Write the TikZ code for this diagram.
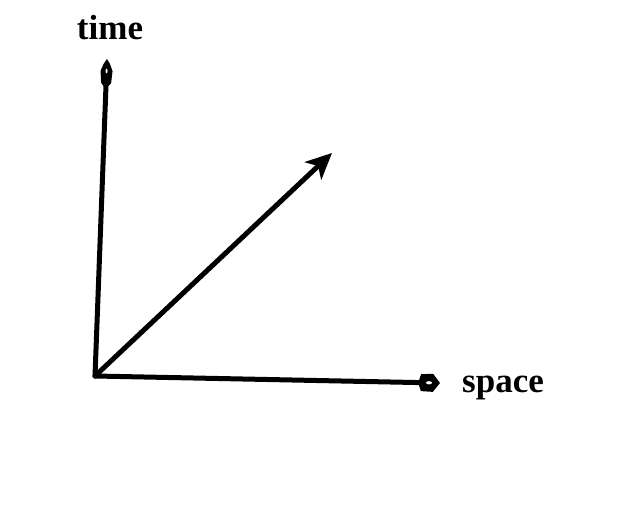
\documentclass[tikz,border=0pt]{standalone}
\usepackage{fontspec}
\setmainfont{Liberation Serif}
\usetikzlibrary{arrows.meta,calc}
\begin{document}
\begin{tikzpicture}[x=1pt,y=-1pt,
  axis/.style={line width=5pt, line cap=round},
  diaghead/.style={-{Stealth[length=26pt, width=24pt, inset=7pt]}},
  headfill/.style={fill=black},
  hole/.style={fill=white},
  lbl/.style={font=\fontsize{35}{40}\selectfont\bfseries, inner sep=0pt}]
\useasboundingbox (0,0) rectangle (628,516);
\coordinate (O) at (95,376);
\coordinate (T) at (107,59);
\coordinate (S) at (440,383);
\coordinate (D) at (332,153);
% axes
\draw[axis] (O) -- ($(T)!20pt!(O)$);
\draw[axis] (O) -- ($(S)!15pt!(O)$);
\draw[axis, diaghead] (O) -- (D);
% time arrow head
\fill[headfill] (T)
  -- ($(T)!5pt!(O)!3.2pt!90:(O)$)
  -- ($(T)!12pt!(O)!6pt!90:(O)$)
  -- ($(T)!24pt!(O)!5pt!90:(O)$)
  -- ($(T)!27pt!(O)!2.5pt!90:(O)$)
  -- ($(T)!27pt!(O)!-2.5pt!90:(O)$)
  -- ($(T)!24pt!(O)!-5pt!90:(O)$)
  -- ($(T)!12pt!(O)!-6pt!90:(O)$)
  -- ($(T)!5pt!(O)!-3.2pt!90:(O)$)
  -- cycle;
\fill[hole] ($(T)!12pt!(O)$) ellipse [x radius=1, y radius=2.3];
% space arrow head
\fill[headfill] (S)
  -- ($(S)!7pt!(O)!9pt!90:(O)$)
  -- ($(S)!19pt!(O)!8.5pt!90:(O)$)
  -- ($(S)!21pt!(O)!2.5pt!90:(O)$)
  -- ($(S)!21pt!(O)!-2.5pt!90:(O)$)
  -- ($(S)!19pt!(O)!-8.5pt!90:(O)$)
  -- ($(S)!7pt!(O)!-9pt!90:(O)$)
  -- cycle;
\fill[hole] ($(S)!11pt!(O)$) ellipse [x radius=3, y radius=1.6];
% labels
\node[lbl, anchor=base] (time) at (110,40) {time};
\node[lbl, anchor=base west] (space) at (462,392) {space};
\end{tikzpicture}
\end{document}
